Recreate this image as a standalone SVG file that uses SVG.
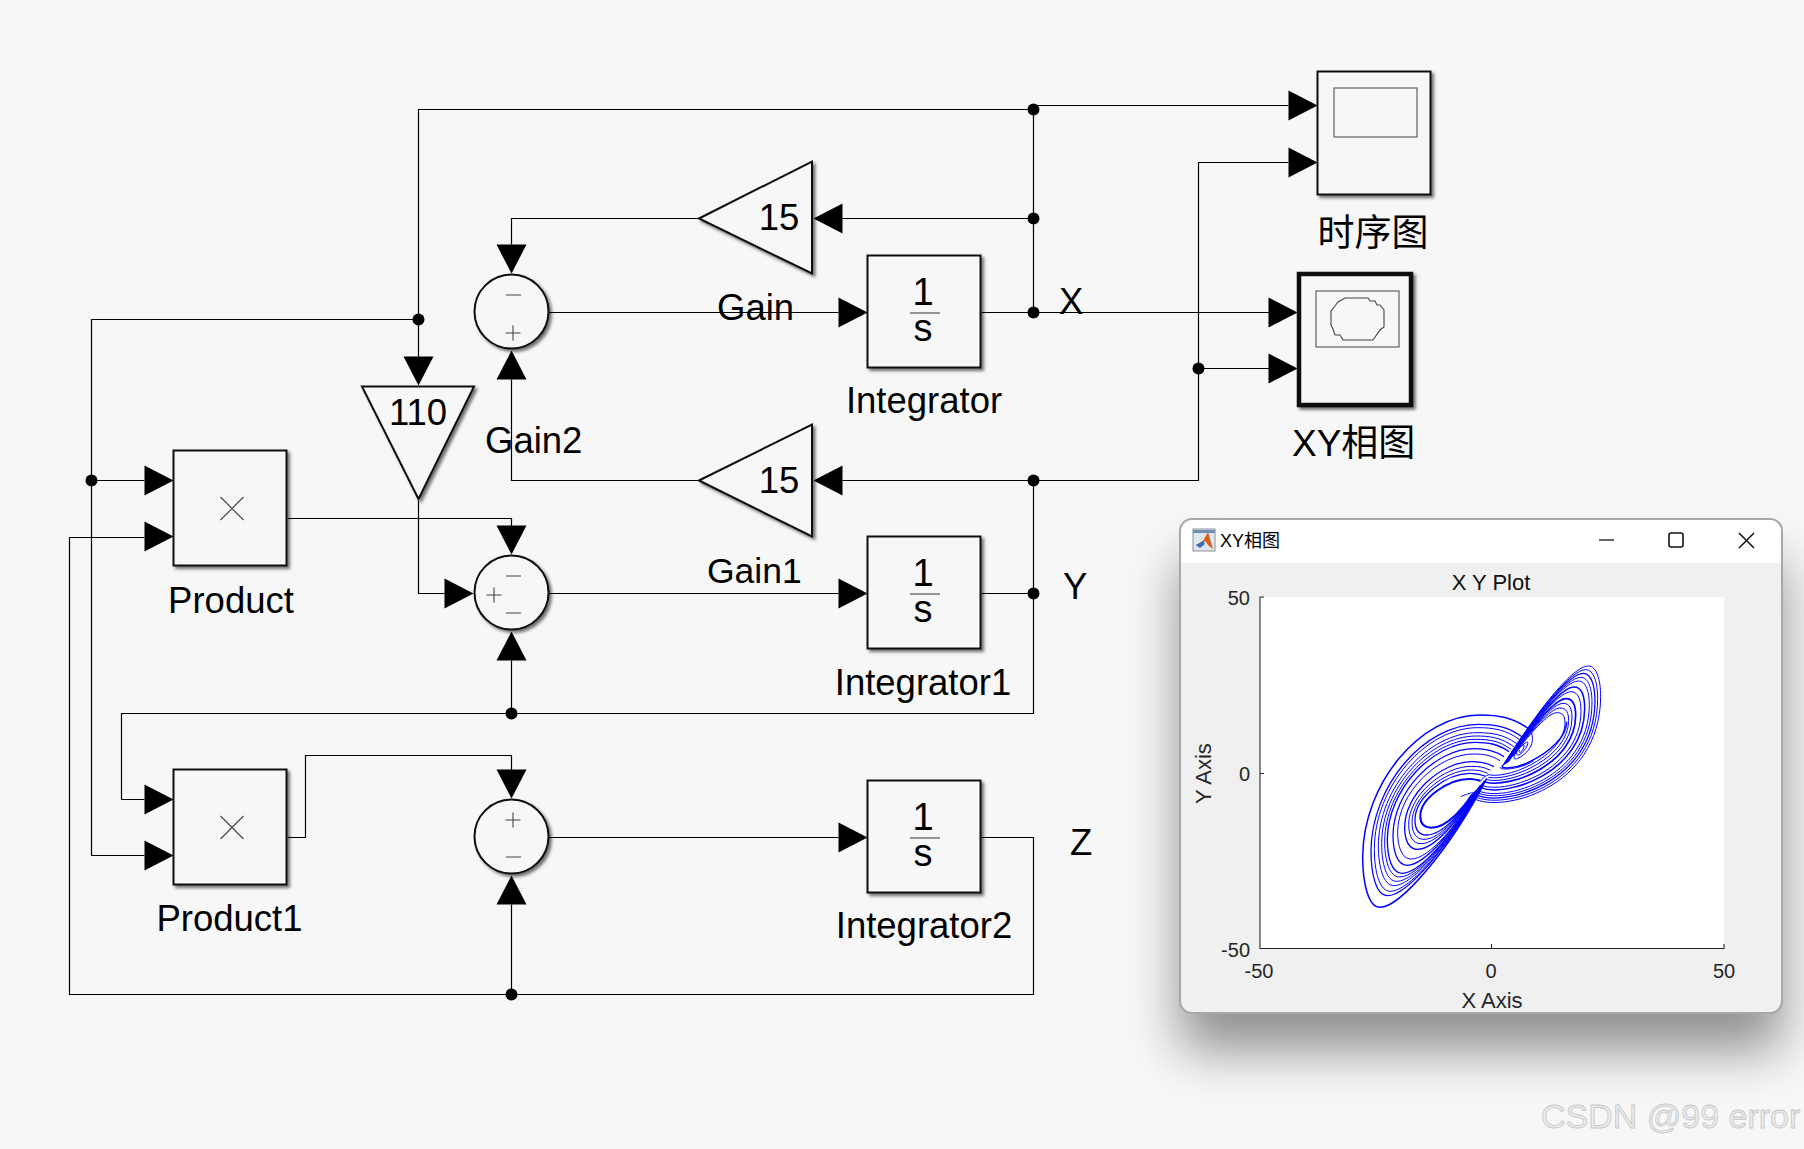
<svg xmlns="http://www.w3.org/2000/svg" width="1804" height="1149" viewBox="0 0 1804 1149">
<style>
text{font-family:"Liberation Sans",Arial,"Noto Sans CJK SC",sans-serif;fill:#000}
.lb{font-size:36.5px}
.mid{text-anchor:middle}
.blk{fill:#f7f7f7;stroke:#111;stroke-width:2;filter:url(#sh)}
.wire{fill:none;stroke:#000;stroke-width:1.2}
.sign{fill:none;stroke:#444;stroke-width:1.1}
.tick{font-size:20px;fill:#262626}
.ax{fill:none;stroke:#262626;stroke-width:1.1}
.lor{fill:none;stroke:#0000ff;stroke-width:3}
.ctl{fill:none;stroke:#111;stroke-width:1.3}
</style>
<defs>
<filter id="sh" x="-20%" y="-20%" width="150%" height="150%"><feDropShadow dx="2.5" dy="2.5" stdDeviation="1.6" flood-color="#000" flood-opacity=".55"/></filter>
<filter id="win" x="-30%" y="-30%" width="160%" height="170%"><feGaussianBlur stdDeviation="26"/></filter>
<polygon id="ar" points="0,0 -29,-15 -29,15" fill="#000"/>
<circle id="dot" r="6" fill="#000"/>
</defs>
<rect id="background" width="1804" height="1149" fill="#f7f7f7"/>

<g id="connectors" transform="translate(.5,.5)">
<path class="wire" d="M418 357V109H1033M1033 109V105H1288M1033 109V312M1033 218H842"/>
<path class="wire" d="M548 312H838M981 312H1269"/>
<path class="wire" d="M418 319H91V855H144M91 480H144"/>
<path class="wire" d="M698 218H511V244"/>
<path class="wire" d="M698 480H511V379"/>
<path class="wire" d="M842 480H1198V162H1288M1198 368H1269"/>
<path class="wire" d="M1033 480V713H121V799H144M511 713V660M981 593H1033"/>
<path class="wire" d="M418 500V593H444M287 518H511V526"/>
<path class="wire" d="M548 593H838"/>
<path class="wire" d="M287 837H305V755H511V770"/>
<path class="wire" d="M548 837H838M981 837H1033V994H69V537H144M511 994V904"/>
<use href="#ar" transform="translate(1317,105)"/>
<use href="#ar" transform="translate(1317,162)"/>
<use href="#ar" transform="translate(1297,312)"/>
<use href="#ar" transform="translate(1297,368)"/>
<use href="#ar" transform="translate(867,312)"/>
<use href="#ar" transform="translate(867,593)"/>
<use href="#ar" transform="translate(867,837)"/>
<use href="#ar" transform="translate(813,218) rotate(180)"/>
<use href="#ar" transform="translate(813,480) rotate(180)"/>
<use href="#ar" transform="translate(511,273) rotate(90)"/>
<use href="#ar" transform="translate(511,350) rotate(-90)"/>
<use href="#ar" transform="translate(511,554) rotate(90)"/>
<use href="#ar" transform="translate(511,631) rotate(-90)"/>
<use href="#ar" transform="translate(473,593)"/>
<use href="#ar" transform="translate(511,798) rotate(90)"/>
<use href="#ar" transform="translate(511,875) rotate(-90)"/>
<use href="#ar" transform="translate(418,385) rotate(90)"/>
<use href="#ar" transform="translate(173,480)"/>
<use href="#ar" transform="translate(173,536)"/>
<use href="#ar" transform="translate(173,799)"/>
<use href="#ar" transform="translate(173,855)"/>
<use href="#dot" x="1033" y="109"/>
<use href="#dot" x="1033" y="218"/>
<use href="#dot" x="1033" y="312"/>
<use href="#dot" x="1033" y="480"/>
<use href="#dot" x="1033" y="593"/>
<use href="#dot" x="1198" y="368"/>
<use href="#dot" x="418" y="319"/>
<use href="#dot" x="91" y="480"/>
<use href="#dot" x="511" y="713"/>
<use href="#dot" x="511" y="994"/>
</g>

<g id="scope-timing">
<rect class="blk" x="1317.500" y="71.500" width="113" height="123"/>
<rect x="1334" y="88" width="83" height="49" fill="none" stroke="#555" stroke-width="1.1"/>
<text x="1373" y="246" style="text-anchor:middle;font-size:37px">时序图</text>
</g>
<g id="scope-xy">
<rect class="blk" x="1299" y="274" width="112" height="131" style="stroke-width:4.500"/>
<rect x="1316" y="291" width="83" height="56" fill="none" stroke="#555" stroke-width="1.1"/>
<path d="M1345 298H1368L1370 301H1375L1377 305H1380L1384 310V327L1380 330L1373 340H1343L1340 335H1335L1333 329L1331 325V311L1335 306L1338 302Z" fill="none" stroke="#444" stroke-width="1.1"/>
<text class="lb" x="1292" y="456" style="font-size:37px">XY相图</text>
</g>
<g id="gain">
<polygon class="blk" points="699,218.500 812,161.500 812,273.500"/>
<text class="lb mid" x="779" y="230">15</text>
<text class="lb" x="717" y="320">Gain</text>
</g>
<g id="gain1">
<polygon class="blk" points="699,480.500 812,424.500 812,536.500"/>
<text class="lb mid" x="779" y="493">15</text>
<text class="lb" x="707" y="583" style="font-size:35.500px">Gain1</text>
</g>
<g id="gain2">
<polygon class="blk" points="362,386.500 474,386.500 418.500,499"/>
<text class="lb mid" x="418" y="425">110</text>
<text class="lb" x="485" y="453">Gain2</text>
</g>
<g id="sum1">
<circle class="blk" cx="511.500" cy="311.500" r="37"/>
<path class="sign" d="M506 295H521M513 325.500V340.500M505.500 333H520.500"/>
</g>
<g id="sum2">
<circle class="blk" cx="511.500" cy="592.500" r="37"/>
<path class="sign" d="M506 576H521M506 613H521M494 587.500V602.500M486.500 595H501.500"/>
</g>
<g id="sum3">
<circle class="blk" cx="511.500" cy="836.500" r="37"/>
<path class="sign" d="M506 857H521M513 812.500V827.500M505.500 820H520.500"/>
</g>
<g id="integrator">
<rect class="blk" x="867.500" y="255.500" width="113" height="112"/>
<path class="sign" d="M910 313H940"/>
<text class="mid" style="font-size:38px"><tspan x="923" y="305">1</tspan><tspan x="923" y="341">s</tspan></text>
<text class="lb mid" x="924" y="413">Integrator</text>
</g>
<g id="integrator1">
<rect class="blk" x="867.500" y="536.500" width="113" height="112"/>
<path class="sign" d="M910 594H940"/>
<text class="mid" style="font-size:38px"><tspan x="923" y="586">1</tspan><tspan x="923" y="622">s</tspan></text>
<text class="lb mid" x="923" y="695">Integrator1</text>
</g>
<g id="integrator2">
<rect class="blk" x="867.500" y="780.500" width="113" height="112"/>
<path class="sign" d="M910 838H940"/>
<text class="mid" style="font-size:38px"><tspan x="923" y="830">1</tspan><tspan x="923" y="866">s</tspan></text>
<text class="lb mid" x="924" y="938">Integrator2</text>
</g>
<g id="product">
<rect class="blk" x="173.500" y="450.500" width="113" height="115"/>
<path class="sign" d="M220.500 497L243.500 520M243.500 497L220.500 520"/>
<text class="lb mid" x="231" y="613">Product</text>
</g>
<g id="product1">
<rect class="blk" x="173.500" y="769.500" width="113" height="115"/>
<path class="sign" d="M220.500 816L243.500 839M243.500 816L220.500 839"/>
<text class="lb mid" x="229.500" y="931">Product1</text>
</g>
<g id="signal-labels">
<text class="lb" x="1059" y="314">X</text>
<text class="lb" x="1063" y="599">Y</text>
<text class="lb" x="1070" y="855">Z</text>
</g>

<g id="plot-window">
<rect x="1180" y="560" width="602" height="490" rx="14" fill="#000" opacity=".42" filter="url(#win)"/>
<rect x="1180" y="519" width="602" height="494" rx="12" fill="#f0f0f0" stroke="#a8a8a8" stroke-width="2"/>
<path d="M1181 563V532A12 12 0 0 1 1193 520H1769A12 12 0 0 1 1781 532V563Z" fill="#fff"/>
<rect x="1193" y="529" width="22" height="22" fill="#dfe6ee" stroke="#8a9099"/>
<path d="M1193 530H1215V533H1193Z" fill="#6f8fb5"/>
<path d="M1196 545L1203 541L1208 532L1213 549L1209 546L1205 541L1200 547Z" fill="#d9601a"/>
<path d="M1196 545L1203 541L1205 544L1200 548Z" fill="#3a6fb0"/>
<text x="1220" y="547" style="font-size:18px">XY相图</text>
<path class="ctl" d="M1599 540H1614"/>
<rect class="ctl" x="1669" y="533" width="14" height="14" rx="2" style="stroke-width:1.600"/>
<path class="ctl" d="M1739 533L1754 548M1754 533L1739 548" style="stroke-width:1.500"/>
<rect x="1260" y="597" width="464" height="351" fill="#fff"/>
<path class="ax" d="M1264 597H1260V948.500H1724V944M1491.500 948.500V944M1260 773.500H1264"/>
<text class="mid" x="1491" y="590" style="font-size:22px;fill:#111">X Y Plot</text>
<text class="tick" x="1250" y="605" text-anchor="end">50</text>
<text class="tick" x="1250" y="781" text-anchor="end">0</text>
<text class="tick" x="1250" y="957" text-anchor="end">-50</text>
<text class="tick mid" x="1259" y="978">-50</text>
<text class="tick mid" x="1491" y="978">0</text>
<text class="tick mid" x="1724" y="978">50</text>
<text class="tick mid" x="1492" y="1008" style="font-size:22px">X Axis</text>
<text class="tick mid" transform="translate(1211,773.500) rotate(-90)" style="font-size:22px">Y Axis</text>
<g transform="translate(1300,650) scale(.33333)" class="lor">
<path d="M690 240C640 200 590 195 540 195C360 195 190 400 188 620C188 700 205 772 240 772C300 772 450 600 560 385" stroke-width="4.500"/>
<path d="M668 262C624 228 580 223 535 223C373 223 215 406 213 602C213 674 229 737 262 737C321 737 456 581 554 392" stroke-width="3.800"/>
<path d="M660 270C618 238 577 233 533 233C378 233 224 409 223 596C223 664 238 724 271 724C329 724 459 574 551 395"/>
<path d="M650 281C610 252 572 248 531 248C384 248 236 412 235 587C235 650 250 707 282 707C339 707 462 564 548 398"/>
<path d="M641 290C604 262 568 258 529 258C389 258 246 414 245 580C245 641 259 694 290 694C347 694 464 557 546 401"/>
<path d="M633 298C598 272 565 268 527 268C394 268 255 417 254 574C254 631 268 681 299 681C355 681 467 550 543 404"/>
<path d="M627 305C593 281 562 277 526 277C398 277 263 419 262 568C262 622 275 670 306 670C361 670 469 544 541 406" stroke-width="4"/>
<path d="M612 320C582 300 555 296 523 296C406 296 280 423 279 556C279 604 292 646 321 646C375 646 473 530 537 411" stroke-width="3.800"/>
<path d="M600 332C573 315 550 312 520 312C414 312 294 427 293 546C293 589 305 627 334 627C387 627 477 520 533 415"/>
<path d="M582 350C560 338 542 335 516 335C424 335 314 432 314 532C314 568 325 598 352 598C404 598 482 504 528 421" stroke-width="4"/>
<path d="M571 361C552 351 537 349 514 349C430 349 326 435 326 523C326 555 337 581 363 581C414 581 485 494 525 425"/>
<path d="M563 370C546 362 534 360 512 360C435 360 336 438 336 517C336 545 346 568 372 568C422 568 488 487 522 427"/>
<path d="M555 378C540 372 530 370 510 370C440 370 345 440 345 510C345 535 355 555 380 555C430 555 490 480 520 430" stroke-width="3.800"/>
<path d="M541 392C530 389 524 387 507 387C448 387 360 444 361 499C361 518 370 533 394 533C443 533 494 468 516 434" stroke-width="6"/>
<path d="M520 445C600 490 900 420 902 140C902 90 890 48 865 48C820 48 720 170 610 345"/>
<path d="M524 439C603 482 892 411 893 146C893 99 882 59 857 59C814 59 718 176 611 344"/>
<path d="M528 434C606 473 883 402 885 153C885 108 874 70 850 70C808 70 715 183 612 343" stroke-width="3.800"/>
<path d="M532 428C610 465 875 394 876 159C876 116 866 82 842 82C802 82 713 189 614 343"/>
<path d="M536 423C613 456 866 385 868 166C868 125 858 93 835 93C796 93 710 196 615 342"/>
<path d="M542 413C618 443 853 370 854 176C854 140 845 111 822 111C786 111 706 206 617 340" stroke-width="4.500"/>
<path d="M547 407C622 432 842 360 843 184C843 150 835 125 813 125C779 125 703 214 618 340"/>
<path d="M555 396C628 417 827 343 827 196C827 167 820 146 798 146C767 146 699 226 620 338" stroke-width="5"/>
<path d="M560 389C632 406 816 332 816 204C816 178 810 160 789 160C760 160 696 234 622 337"/>
<path d="M565 382C636 395 805 321 806 212C806 189 800 174 780 174C752 174 693 242 623 336"/>
<path d="M570 375C640 385 795 310 795 220C795 200 790 188 770 188C745 188 690 250 625 335"/>
<path d="M610 345C592 360 650 356 690 335C750 305 800 260 800 215" stroke-width="4.500"/>
<path d="M600 352C600 362 660 358 700 333"/>
<path d="M690 240C702 260 702 290 670 315C650 330 630 335 650 305C665 285 690 265 682 285C675 305 650 325 650 310C650 295 675 275 672 290C668 305 655 315 658 300"/>
<path d="M540 395C555 375 570 372 570 375M525 430C532 420 480 440 482 440" stroke-width="3"/>
</g>
</g>
<text id="watermark" x="1541" y="1128" style="font-size:34px;fill:#ececec;stroke:#c6c6c6;stroke-width:.8">CSDN @99 error</text>
</svg>
